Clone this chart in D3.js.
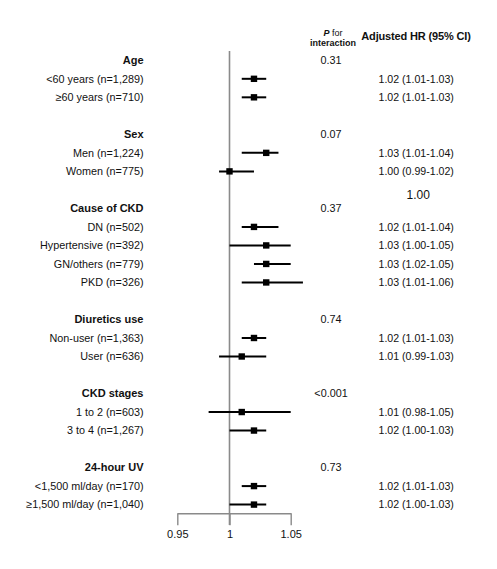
<!DOCTYPE html>
<html lang="en">
<head>
<meta charset="UTF-8">
<title>Forest plot</title>
<style>
  body { margin: 0; background: #fff; }
  text { font-family: "Liberation Sans", Arial, sans-serif; fill: #111; }
</style>
</head>
<body>
<script src="https://cdn.jsdelivr.net/npm/d3@7"></script>
<script>
// groups and their P for interaction
var groups = ["Age", "Sex", "Cause of CKD", "Diuretics use", "CKD stages", "24-hour UV"];
var pInteraction = ["0.31", "0.07", "0.37", "0.74", "<0.001", "0.73"];

// subgroups (group index, label, HR, lower CI, upper CI)
var subGroup = [0, 0, 1, 1, 2, 2, 2, 2, 3, 3, 4, 4, 5, 5];
var subLabels = ["<60 years (n=1,289)", "\u226560 years (n=710)",
                 "Men (n=1,224)", "Women (n=775)",
                 "DN (n=502)", "Hypertensive (n=392)", "GN/others (n=779)", "PKD (n=326)",
                 "Non-user (n=1,363)", "User (n=636)",
                 "1 to 2 (n=603)", "3 to 4 (n=1,267)",
                 "<1,500 ml/day (n=170)", "\u22651,500 ml/day (n=1,040)"];
var hr    = [1.02, 1.02, 1.03, 1.00, 1.02, 1.03, 1.03, 1.03, 1.02, 1.01, 1.01, 1.02, 1.02, 1.02];
var ciLow = [1.01, 1.01, 1.01, 0.99, 1.01, 1.00, 1.02, 1.01, 1.01, 0.99, 0.98, 1.00, 1.01, 1.00];
var ciHi  = [1.03, 1.03, 1.04, 1.02, 1.04, 1.05, 1.05, 1.06, 1.03, 1.03, 1.05, 1.03, 1.03, 1.03];
var axisTicks = [0.95, 1, 1.05];

var w = 497, h = 569;
var svg = d3.select("body").append("svg")
    .attr("width", w).attr("height", h);

// build row list: header, its subgroups, blank spacer
var rows = [];
groups.forEach(function(g, gi) {
    rows.push({type: "header", label: g, p: pInteraction[gi]});
    subLabels.forEach(function(l, i) {
        if (subGroup[i] === gi) rows.push({type: "item", label: l, hr: hr[i], lo: ciLow[i], hi: ciHi[i]});
    });
    if (gi < groups.length - 1) rows.push({type: "blank"});
});
rows.forEach(function(r, i) { r.idx = i; });

var y = d3.scaleLinear().domain([0, rows.length - 1]).range([60.3, 504.6]);
var x = d3.scaleLinear().domain([0.95, 1, 1.05]).range([177.3, 229.5, 290.7]);

// reference line at HR = 1
svg.append("line")
    .attr("x1", x(1)).attr("x2", x(1))
    .attr("y1", 51).attr("y2", 525)
    .attr("stroke", "#8a8a8a").attr("stroke-width", 1.6);

// axis
var axis = d3.axisBottom(x)
    .tickValues(axisTicks)
    .tickSize(12)
    .tickSizeOuter(0)
    .tickFormat(function(d) { return d === 1 ? "1" : d3.format(".2f")(d); });
var ax = svg.append("g").attr("transform", "translate(0,513.3)").call(axis);
ax.select(".domain").attr("stroke", "#8a8a8a").attr("stroke-width", 1.4);
ax.selectAll(".tick line").attr("stroke", "#8a8a8a").attr("stroke-width", 1.4);
ax.selectAll(".tick text")
    .attr("font-family", "Liberation Sans, Arial, sans-serif")
    .attr("font-size", "11px").attr("fill", "#111").attr("dy", "0.9em");

var items = rows.filter(function(r) { return r.type === "item"; });
var headers = rows.filter(function(r) { return r.type === "header"; });

// left labels
svg.selectAll("text.lab")
    .data(rows.filter(function(r) { return r.type !== "blank"; }))
    .enter().append("text")
    .attr("class", "lab")
    .attr("x", 143.5)
    .attr("y", function(d) { return y(d.idx); })
    .attr("dy", "0.35em")
    .attr("text-anchor", "end")
    .attr("font-size", function(d) { return d.type === "header" ? "11px" : "10.8px"; })
    .attr("font-weight", function(d) { return d.type === "header" ? "bold" : "normal"; })
    .text(function(d) { return d.label; });

// CI whiskers
svg.selectAll("line.ci")
    .data(items).enter().append("line")
    .attr("class", "ci")
    .attr("x1", function(d) { return x(d.lo); })
    .attr("x2", function(d) { return x(d.hi); })
    .attr("y1", function(d) { return y(d.idx); })
    .attr("y2", function(d) { return y(d.idx); })
    .attr("stroke", "#000").attr("stroke-width", 2);

// point estimates
svg.selectAll("rect.pt")
    .data(items).enter().append("rect")
    .attr("class", "pt")
    .attr("x", function(d) { return x(d.hr) - 3.2; })
    .attr("y", function(d) { return y(d.idx) - 3.2; })
    .attr("width", 6.4).attr("height", 6.4)
    .attr("fill", "#000");

// P for interaction values
svg.selectAll("text.pv")
    .data(headers).enter().append("text")
    .attr("class", "pv")
    .attr("x", 331)
    .attr("y", function(d) { return y(d.idx); })
    .attr("dy", "0.35em")
    .attr("text-anchor", "middle")
    .attr("font-size", "10.8px")
    .text(function(d) { return d.p; });

// HR (95% CI) text
var f = d3.format(".2f");
svg.selectAll("text.hr")
    .data(items).enter().append("text")
    .attr("class", "hr")
    .attr("x", 378.5)
    .attr("y", function(d) { return y(d.idx); })
    .attr("dy", "0.35em")
    .attr("font-size", "10.6px")
    .text(function(d) { return f(d.hr) + " (" + f(d.lo) + "-" + f(d.hi) + ")"; });

// column headers
var ph = svg.append("text").attr("x", 333).attr("y", 35.5)
    .attr("text-anchor", "middle").attr("font-size", "9px");
ph.append("tspan").attr("font-style", "italic").attr("font-weight", "bold").text("P");
ph.append("tspan").text(" for");
svg.append("text").attr("x", 333).attr("y", 45.5)
    .attr("text-anchor", "middle").attr("font-size", "9px").attr("font-weight", "bold")
    .text("interaction");
svg.append("text").attr("x", 416).attr("y", 40.3)
    .attr("text-anchor", "middle").attr("font-size", "11px").attr("font-weight", "bold")
    .attr("letter-spacing", "-0.15px")
    .text("Adjusted HR (95% CI)");

// stray label in the original figure
svg.append("text").attr("x", 418.3).attr("y", 199.3)
    .attr("text-anchor", "middle").attr("font-size", "12px")
    .text("1.00");
</script>
</body>
</html>
